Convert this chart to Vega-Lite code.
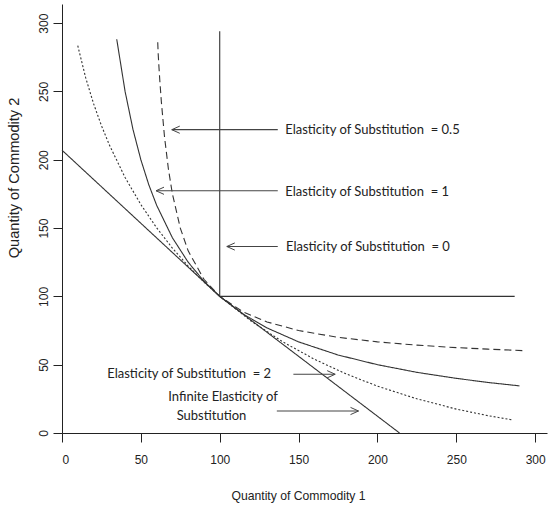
{
  "$schema": "https://vega.github.io/schema/vega-lite/v6.json",
  "width": 485,
  "height": 429,
  "autosize": "none",
  "padding": {"left": 62, "top": 4, "right": 3, "bottom": 73},
  "background": "white",
  "config": {
    "view": {"stroke": null},
    "axis": {
      "grid": false,
      "domainColor": "#222",
      "tickColor": "#222",
      "labelColor": "#222",
      "titleColor": "#222",
      "labelFont": "Liberation Sans",
      "labelFontSize": 12,
      "tickSize": 9,
      "titleFontWeight": "normal"
    }
  },
  "datasets": {
    "curves": [
      {"c": "inf", "i": 1, "x": 0, "y": 207},
      {"c": "inf", "i": 2, "x": 100, "y": 100},
      {"c": "inf", "i": 3, "x": 214, "y": 0},
      {"c": "zero", "i": 1, "x": 100, "y": 294},
      {"c": "zero", "i": 2, "x": 100, "y": 100},
      {"c": "zero", "i": 3, "x": 287, "y": 100},
      {"c": "one", "i": 1, "x": 34.7, "y": 288.2},
      {"c": "one", "i": 2, "x": 40, "y": 250},
      {"c": "one", "i": 3, "x": 45, "y": 222.2},
      {"c": "one", "i": 4, "x": 50, "y": 200},
      {"c": "one", "i": 5, "x": 55, "y": 181.8},
      {"c": "one", "i": 6, "x": 60, "y": 166.7},
      {"c": "one", "i": 7, "x": 70, "y": 142.9},
      {"c": "one", "i": 8, "x": 80, "y": 125},
      {"c": "one", "i": 9, "x": 90, "y": 111.1},
      {"c": "one", "i": 10, "x": 100, "y": 100},
      {"c": "one", "i": 11, "x": 115, "y": 87},
      {"c": "one", "i": 12, "x": 130, "y": 76.9},
      {"c": "one", "i": 13, "x": 150, "y": 66.7},
      {"c": "one", "i": 14, "x": 175, "y": 57.1},
      {"c": "one", "i": 15, "x": 200, "y": 50},
      {"c": "one", "i": 16, "x": 225, "y": 44.4},
      {"c": "one", "i": 17, "x": 250, "y": 40},
      {"c": "one", "i": 18, "x": 270, "y": 37},
      {"c": "one", "i": 19, "x": 290, "y": 34.5},
      {"c": "half", "i": 1, "x": 60.7, "y": 286},
      {"c": "half", "i": 2, "x": 61, "y": 277.3},
      {"c": "half", "i": 3, "x": 61.5, "y": 267.4},
      {"c": "half", "i": 4, "x": 62, "y": 258.3},
      {"c": "half", "i": 5, "x": 63, "y": 242.3},
      {"c": "half", "i": 6, "x": 65, "y": 216.7},
      {"c": "half", "i": 7, "x": 67.5, "y": 192.9},
      {"c": "half", "i": 8, "x": 70, "y": 175},
      {"c": "half", "i": 9, "x": 75, "y": 150},
      {"c": "half", "i": 10, "x": 80, "y": 133.3},
      {"c": "half", "i": 11, "x": 90, "y": 112.5},
      {"c": "half", "i": 12, "x": 100, "y": 100},
      {"c": "half", "i": 13, "x": 115, "y": 88.5},
      {"c": "half", "i": 14, "x": 130, "y": 81.3},
      {"c": "half", "i": 15, "x": 150, "y": 75},
      {"c": "half", "i": 16, "x": 175, "y": 70},
      {"c": "half", "i": 17, "x": 200, "y": 66.7},
      {"c": "half", "i": 18, "x": 225, "y": 64.3},
      {"c": "half", "i": 19, "x": 250, "y": 62.5},
      {"c": "half", "i": 20, "x": 270, "y": 61.4},
      {"c": "half", "i": 21, "x": 292, "y": 60.3},
      {"c": "two", "i": 1, "x": 10, "y": 283.5},
      {"c": "two", "i": 2, "x": 15, "y": 260.1},
      {"c": "two", "i": 3, "x": 20, "y": 241.1},
      {"c": "two", "i": 4, "x": 25, "y": 225},
      {"c": "two", "i": 5, "x": 30, "y": 210.9},
      {"c": "two", "i": 6, "x": 40, "y": 187},
      {"c": "two", "i": 7, "x": 50, "y": 167.2},
      {"c": "two", "i": 8, "x": 60, "y": 150.2},
      {"c": "two", "i": 9, "x": 70, "y": 135.3},
      {"c": "two", "i": 10, "x": 80, "y": 122.2},
      {"c": "two", "i": 11, "x": 90, "y": 110.5},
      {"c": "two", "i": 12, "x": 100, "y": 100},
      {"c": "two", "i": 13, "x": 120, "y": 81.8},
      {"c": "two", "i": 14, "x": 140, "y": 66.7},
      {"c": "two", "i": 15, "x": 160, "y": 54},
      {"c": "two", "i": 16, "x": 180, "y": 43.3},
      {"c": "two", "i": 17, "x": 200, "y": 34.3},
      {"c": "two", "i": 18, "x": 225, "y": 25},
      {"c": "two", "i": 19, "x": 250, "y": 17.5},
      {"c": "two", "i": 20, "x": 270, "y": 12.7},
      {"c": "two", "i": 21, "x": 286, "y": 9.5}
    ],
    "arrows": [
      {"x": 69.6, "x2": 136.8, "y": 222, "dir": "left"},
      {"x": 59.6, "x2": 136.8, "y": 177.3, "dir": "left"},
      {"x": 104.5, "x2": 136.8, "y": 136.5, "dir": "left"},
      {"x": 146.7, "x2": 173.2, "y": 43, "dir": "right"},
      {"x": 136.2, "x2": 188, "y": 16.1, "dir": "right"}
    ],
    "heads": [
      {"x": 69.6, "y": 222, "dir": "left"},
      {"x": 59.6, "y": 177.3, "dir": "left"},
      {"x": 104.5, "y": 136.5, "dir": "left"},
      {"x": 173.2, "y": 43, "dir": "right"},
      {"x": 188, "y": 16.1, "dir": "right"}
    ],
    "labels": [
      {"x": 141.5, "y": 222, "t": "Elasticity of Substitution\u00a0 = 0.5"},
      {"x": 141.5, "y": 176.5, "t": "Elasticity of Substitution\u00a0 = 1"},
      {"x": 142, "y": 136.5, "t": "Elasticity of Substitution\u00a0 = 0"},
      {"x": 28.7, "y": 43.2, "t": "Elasticity of Substitution\u00a0 = 2"},
      {"x": 67.4, "y": 26.6, "t": "Infinite Elasticity of"},
      {"x": 72.7, "y": 12.5, "t": "Substitution"}
    ]
  },
  "encoding": {
    "x": {
      "field": "x", "type": "quantitative",
      "scale": {"domain": [0, 307.5], "nice": false, "zero": false},
      "axis": {
        "title": "Quantity of Commodity 1",
        "values": [0, 50, 100, 150, 200, 250, 300],
        "labelPadding": 12,
        "titleFont": "Liberation Sans",
        "titleFontSize": 12.2,
        "titleX": 236,
        "titleY": 62,
        "titleBaseline": "middle",
        "titleAlign": "center"
      }
    },
    "y": {
      "field": "y", "type": "quantitative",
      "scale": {"domain": [0, 314], "nice": false, "zero": false},
      "axis": {
        "title": "Quantity of Commodity 2",
        "values": [0, 50, 100, 150, 200, 250, 300],
        "labelAngle": 270,
        "labelAlign": "center",
        "labelBaseline": "bottom",
        "labelPadding": 3,
        "titleFont": "Liberation Sans",
        "titleFontSize": 14.6,
        "titleAngle": 270,
        "titleX": -48,
        "titleY": 173.5,
        "titleBaseline": "middle",
        "titleAlign": "center"
      }
    }
  },
  "layer": [
    {
      "data": {"name": "curves"},
      "mark": {"type": "line", "color": "#333", "strokeWidth": 1.1},
      "encoding": {
        "detail": {"field": "c"},
        "order": {"field": "i", "type": "quantitative"},
        "strokeDash": {
          "field": "c", "type": "nominal",
          "scale": {
            "domain": ["inf", "zero", "one", "half", "two"],
            "range": [[1, 0], [1, 0], [1, 0], [7, 4], [2, 2]]
          },
          "legend": null
        }
      }
    },
    {
      "data": {"name": "arrows"},
      "mark": {"type": "rule", "color": "#444", "strokeWidth": 1.2},
      "encoding": {
        "x2": {"field": "x2"}
      }
    },
    {
      "data": {"name": "heads"},
      "transform": [{"filter": "datum.dir === 'left'"}],
      "mark": {"type": "point", "shape": "M2,-0.9L0,0L2,0.9", "size": 64, "filled": false, "stroke": "#444", "strokeWidth": 1, "opacity": 1}
    },
    {
      "data": {"name": "heads"},
      "transform": [{"filter": "datum.dir === 'right'"}],
      "mark": {"type": "point", "shape": "M-2,-0.9L0,0L-2,0.9", "size": 64, "filled": false, "stroke": "#444", "strokeWidth": 1, "opacity": 1}
    },
    {
      "data": {"name": "labels"},
      "mark": {"type": "text", "align": "left", "baseline": "middle", "font": "Lato", "fontSize": 13, "color": "#222"},
      "encoding": {
        "text": {"field": "t"}
      }
    }
  ]
}
